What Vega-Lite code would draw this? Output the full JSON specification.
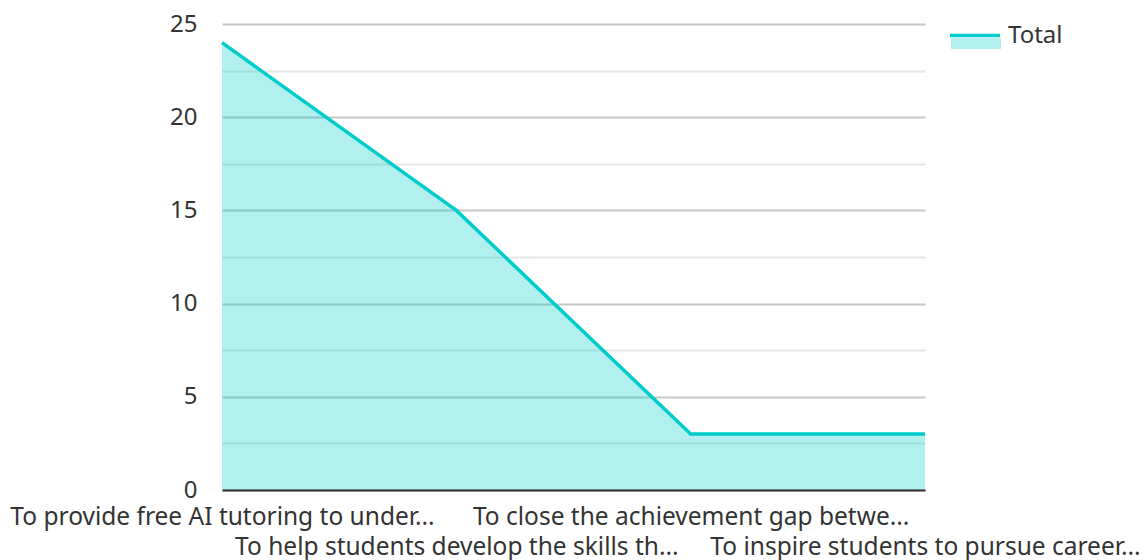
{
  "$schema": "https://vega.github.io/schema/vega-lite/v6.json",
  "width": 703,
  "height": 466,
  "autosize": {"type": "none"},
  "padding": {"left": 222, "top": 24, "right": 222, "bottom": 70},
  "config": {
    "view": {"stroke": null},
    "font": "Noto Sans",
    "axis": {"labelFont": "Noto Sans", "labelFontSize": 24.5, "labelColor": "#333333"},
    "legend": {"labelFont": "Noto Sans", "labelFontSize": 24, "labelColor": "#333333"}
  },
  "data": {
    "values": [
      {"goal": "To provide free AI tutoring to under...", "count": 24, "series": "Total"},
      {"goal": "To help students develop the skills th...", "count": 15, "series": "Total"},
      {"goal": "To close the achievement gap betwe...", "count": 3, "series": "Total"},
      {"goal": "To inspire students to pursue career...", "count": 3, "series": "Total"}
    ]
  },
  "encoding": {
    "x": {
      "field": "goal",
      "type": "nominal",
      "sort": null,
      "scale": {"type": "point", "padding": 0},
      "axis": {
        "title": null,
        "labelAngle": 0,
        "labelLimit": 0,
        "labelOverlap": false,
        "labelFontSize": 24.5,
        "labelPadding": 15,
        "labelLineHeight": 30,
        "labelBaseline": "top",
        "ticks": false,
        "grid": false,
        "domainColor": "#333333",
        "domainWidth": 2,
        "zindex": 2,
        "labelExpr": "indexof(['To help students develop the skills th...', 'To inspire students to pursue career...'], datum.value) >= 0 ? ['', datum.label] : datum.label"
      }
    },
    "y": {
      "field": "count",
      "type": "quantitative",
      "scale": {"domain": [0, 25], "nice": false},
      "axis": {
        "title": null,
        "values": [0, 2.5, 5, 7.5, 10, 12.5, 15, 17.5, 20, 22.5, 25],
        "labelExpr": "datum.value % 5 === 0 ? datum.label : ''",
        "labelFontSize": 24,
        "domain": false,
        "ticks": false,
        "labelPadding": 25,
        "grid": true,
        "gridColor": {"condition": {"test": "datum.value % 5 === 0", "value": "#c8c8c8"}, "value": "#e6e6e6"},
        "gridWidth": 2,
        "zindex": 0
      }
    }
  },
  "layer": [
    {
      "mark": {"type": "area", "fillOpacity": 0.3},
      "encoding": {
        "fill": {
          "field": "series",
          "type": "nominal",
          "scale": {"range": ["#00cccc"]},
          "legend": {
            "title": null,
            "orient": "right",
            "offset": 32,
            "padding": 0,
            "symbolType": "M-5,0.4 L5,0.4 L5,2.6 L-5,2.6 Z",
            "symbolSize": 100,
            "symbolOpacity": 0.3,
            "symbolStrokeWidth": 0,
            "labelExpr": "''"
          }
        }
      }
    },
    {
      "mark": {"type": "line", "strokeWidth": 3.5},
      "encoding": {
        "stroke": {
          "field": "series",
          "type": "nominal",
          "scale": {"range": ["#00cccc"]},
          "legend": {
            "title": null,
            "orient": "none",
            "legendX": 741,
            "legendY": 0,
            "padding": 0,
            "symbolType": "M-5,-0.1 L5,-0.1",
            "symbolSize": 100,
            "symbolStrokeWidth": 3.5,
            "symbolFillColor": "transparent",
            "labelOffset": 21
          }
        }
      }
    }
  ]
}
